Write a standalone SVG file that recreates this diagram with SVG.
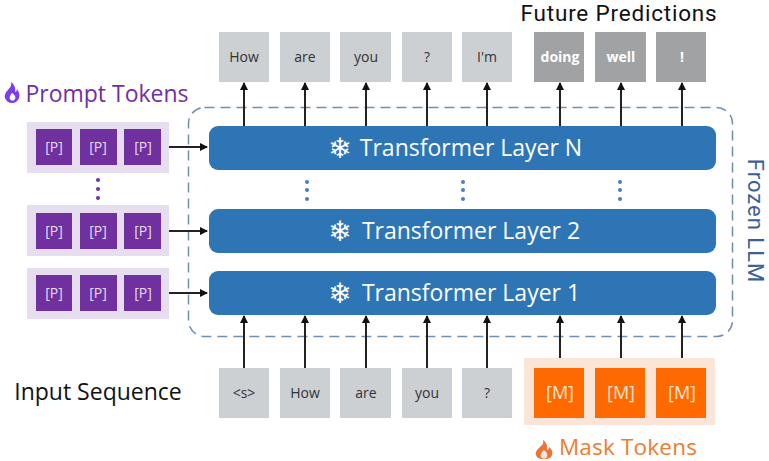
<svg xmlns="http://www.w3.org/2000/svg" width="769" height="461" viewBox="0 0 769 461">
<style>
text{font-family:"Open Sans","Noto Sans","DejaVu Sans",sans-serif;text-anchor:middle}
.g{fill:#ccd0d3}.d{fill:#a0a2a4}.gt{font-size:14px;fill:#333}.dt{font-size:14px;font-weight:700;fill:#fff}
.pb{fill:#e6deef}.p{fill:#7030a0}.pt{font-size:14px;fill:#e9def2}
.mb{fill:#fbe5d8}.m{fill:#ff6a00}.mt{font-size:18px;fill:#ffe3cf}
.l{fill:#2e75b6}.lt{font-size:23px;fill:#fff}.sf{font-family:"DejaVu Sans",sans-serif;font-size:28px;fill:#fff}
.c{stroke:#222;stroke-width:2;fill:none;marker-end:url(#a)}
</style>
<defs><marker id="a" markerWidth="10" markerHeight="10" refX="7" refY="4" orient="auto" markerUnits="userSpaceOnUse"><path d="M0 0L8 4L0 8z" fill="#111"/></marker></defs>
<rect id="frozen" x="188.500" y="107.500" width="544" height="229" rx="16" fill="none" stroke="#6f8db5" stroke-width="1.500" stroke-dasharray="10 6"/>
<text x="748" y="221" font-size="22" letter-spacing="1" style="fill:#3e5f96;font-family:Roboto,sans-serif" transform="rotate(90 748 221)">Frozen LLM</text>
<g id="connectors">
<path class="c" d="M244 126V83"/><path class="c" d="M305 126V83"/><path class="c" d="M366 126V83"/><path class="c" d="M427 126V83"/><path class="c" d="M487 126V83"/><path class="c" d="M560 126V83"/><path class="c" d="M621 126V83"/><path class="c" d="M682 126V83"/>
<path class="c" d="M244 368V316"/><path class="c" d="M305 368V316"/><path class="c" d="M366 368V316"/><path class="c" d="M427 368V316"/><path class="c" d="M487 368V316"/>
<path class="c" d="M560 368V316"/><path class="c" d="M621 368V316"/><path class="c" d="M682 368V316"/>
<path class="c" d="M169 147H207"/><path class="c" d="M169 231H207"/><path class="c" d="M169 293H207"/>
</g>
<g id="layerN"><rect class="l" x="209" y="126" width="507" height="44" rx="9"/><text class="sf" x="340" y="158">❄</text><text class="lt" x="471" y="156">Transformer Layer N</text></g>
<g id="layer2"><rect class="l" x="209" y="209" width="507" height="44" rx="9"/><text class="sf" x="340" y="241">❄</text><text class="lt" x="471" y="239">Transformer Layer 2</text></g>
<g id="layer1"><rect class="l" x="209" y="271" width="507" height="44" rx="9"/><text class="sf" x="340" y="303">❄</text><text class="lt" x="471" y="301">Transformer Layer 1</text></g>
<g id="vdots" fill="#4a7cc0"><circle cx="307" cy="182" r="2"/><circle cx="307" cy="190" r="2"/><circle cx="307" cy="199" r="2"/><circle cx="463" cy="182" r="2"/><circle cx="463" cy="190" r="2"/><circle cx="463" cy="199" r="2"/><circle cx="620" cy="182" r="2"/><circle cx="620" cy="190" r="2"/><circle cx="620" cy="199" r="2"/></g>
<g id="outputs">
<rect class="g" x="219" y="32" width="50" height="50"/><text class="gt" x="244" y="62">How</text>
<rect class="g" x="280" y="32" width="50" height="50"/><text class="gt" x="305" y="62">are</text>
<rect class="g" x="340" y="32" width="51" height="50"/><text class="gt" x="366" y="62">you</text>
<rect class="g" x="402" y="32" width="50" height="50"/><text class="gt" x="427" y="62">?</text>
<rect class="g" x="462" y="32" width="50" height="50"/><text class="gt" x="487" y="62">I'm</text>
<rect class="d" x="534" y="32" width="50" height="50"/><text class="dt" x="560" y="62">doing</text>
<rect class="d" x="595" y="32" width="51" height="50"/><text class="dt" x="621" y="62">well</text>
<rect class="d" x="656" y="32" width="50" height="50"/><text class="dt" x="682" y="62">!</text>
</g>
<text x="619" y="21" font-size="22.500" letter-spacing=".8" style="fill:#111;font-family:Roboto,sans-serif">Future Predictions</text>
<g id="inputs">
<rect class="g" x="219" y="368" width="50" height="50"/><text class="gt" x="244" y="398">&lt;s&gt;</text>
<rect class="g" x="280" y="368" width="50" height="50"/><text class="gt" x="305" y="398">How</text>
<rect class="g" x="340" y="368" width="51" height="50"/><text class="gt" x="366" y="398">are</text>
<rect class="g" x="402" y="368" width="50" height="50"/><text class="gt" x="427" y="398">you</text>
<rect class="g" x="462" y="368" width="50" height="50"/><text class="gt" x="487" y="398">?</text>
</g>
<text x="98" y="400" font-size="23" style="fill:#111">Input Sequence</text>
<g id="mask"><rect class="mb" x="524" y="358" width="191" height="67"/>
<rect class="m" x="534" y="368" width="50" height="50"/><text class="mt" x="560" y="399">[M]</text>
<rect class="m" x="595" y="368" width="50" height="50"/><text class="mt" x="621" y="399">[M]</text>
<rect class="m" x="656" y="368" width="50" height="50"/><text class="mt" x="682" y="399">[M]</text></g>
<g id="maskLabel"><path d="M543 440c1 4-1 5-3 7-3 3-5 5-4 8 1 4 5 4 8 4s7 0 8-4c1-3 0-6-3-8 0 2-1 3-2 3 1-4-1-8-4-10z" fill="#e8763a"/><path d="M544 450c-3 3-4 5-3 7 1 2 5 2 6 0 1-2 0-5-3-7z" fill="#fbe5d8"/><text x="628" y="454.500" font-size="22.500" letter-spacing=".2" style="fill:#ed7d31">Mask Tokens</text></g>
<g id="promptLabel"><path d="M11 82c1 4-1 5-3 8-2 2-4 5-3 8 1 3 4 5 7 5s6-2 7-5c1-3 0-6-2-9 0 2-1 3-2 3 1-4-1-8-4-10z" fill="#7a3df0"/><path d="M12 93c-2 2-3 5-2 6 1 2 4 2 5 0 1-2 0-4-3-6z" fill="#fff"/><text x="107" y="102" font-size="23" style="fill:#7030a0">Prompt Tokens</text></g>
<g id="promptN"><rect class="pb" x="27" y="122" width="142" height="51"/>
<rect class="p" x="36" y="129" width="36" height="36"/><text class="pt" x="54" y="152">[P]</text>
<rect class="p" x="80" y="129" width="37" height="36"/><text class="pt" x="98" y="152">[P]</text>
<rect class="p" x="124" y="129" width="37" height="36"/><text class="pt" x="143" y="152">[P]</text></g>
<g id="promptDots" fill="#7030a0"><circle cx="98" cy="180" r="2"/><circle cx="98" cy="189" r="2"/><circle cx="98" cy="198" r="2"/></g>
<g id="prompt2"><rect class="pb" x="27" y="205" width="142" height="51"/>
<rect class="p" x="36" y="213" width="36" height="36"/><text class="pt" x="54" y="236">[P]</text>
<rect class="p" x="80" y="213" width="37" height="36"/><text class="pt" x="98" y="236">[P]</text>
<rect class="p" x="124" y="213" width="37" height="36"/><text class="pt" x="143" y="236">[P]</text></g>
<g id="prompt1"><rect class="pb" x="27" y="268" width="142" height="51"/>
<rect class="p" x="36" y="275" width="36" height="36"/><text class="pt" x="54" y="298">[P]</text>
<rect class="p" x="80" y="275" width="37" height="36"/><text class="pt" x="98" y="298">[P]</text>
<rect class="p" x="124" y="275" width="37" height="36"/><text class="pt" x="143" y="298">[P]</text></g>
</svg>
